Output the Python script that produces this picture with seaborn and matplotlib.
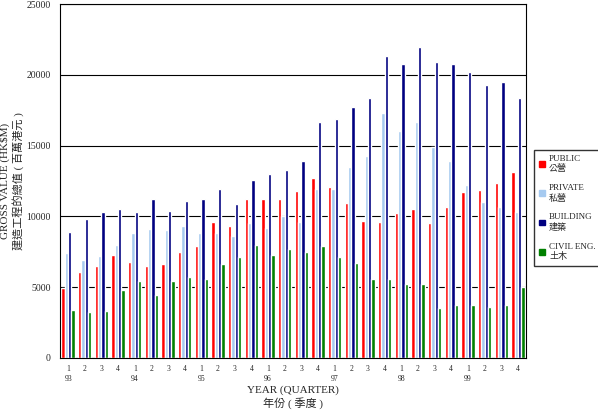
import matplotlib
matplotlib.use("Agg")
import matplotlib.pyplot as plt
import seaborn as sns
import pandas as pd

years = ["93", "94", "95", "96", "97", "98", "99"]
quarters = ["1", "2", "3", "4"]

public = [4940, 6070, 6500, 7300, 6800, 6500, 6600, 7500, 7900, 9600, 9300, 11200,
          11200, 11200, 11800, 12700, 12100, 10950, 9700, 9600, 10200, 10500, 9550, 10650,
          11700, 11850, 12350, 13100]
private = [7400, 6900, 7200, 8000, 8800, 9100, 9000, 9300, 8800, 8800, 8600, 9500,
           9200, 10000, 9600, 11900, 11900, 13500, 14300, 17300, 16000, 16700, 14900, 13900,
           12200, 11000, 10650, 10300]
building = [8900, 9800, 10300, 10500, 10300, 11200, 10400, 11100, 11200, 11900, 10900, 12600,
            13000, 13300, 13900, 16700, 16900, 17700, 18400, 21300, 20800, 22000, 20900, 20800,
            20200, 19300, 19500, 18400]
civil = [3400, 3200, 3300, 4800, 5400, 4450, 5400, 5700, 5600, 6600, 7100, 8000,
         7300, 7700, 7500, 7900, 7100, 6700, 5600, 5600, 5200, 5200, 3550, 3700,
         3750, 3600, 3750, 5000]

series_names = ["PUBLIC\n公營", "PRIVATE\n私營", "BUILDING\n建築", "CIVIL ENG.\n土木"]
colors = ["#ff0000", "#a6caf0", "#000080", "#008000"]

n = len(public)
rows = []
for name, vals in zip(series_names, [public, private, building, civil]):
    for i, v in enumerate(vals):
        rows.append({"q": i, "series": name, "value": v})
df = pd.DataFrame(rows)

sns.set_style("white")
plt.rcParams["font.family"] = ["Liberation Serif", "Noto Sans CJK TC"]

fig = plt.figure(figsize=(5.98, 4.16), dpi=100)
ax = fig.add_axes([0.10, 0.14, 0.78, 0.85])
sns.barplot(data=df, x="q", y="value", hue="series", palette=colors,
            width=0.8, ax=ax, saturation=1, legend=False)

ax.set_ylim(0, 25000)
ax.set_yticks(range(0, 25001, 5000))
ax.tick_params(axis="y", labelsize=7, length=3)
ax.yaxis.grid(True, color="black", linewidth=0.8)
ax.set_axisbelow(True)
for s in ax.spines.values():
    s.set_color("black")
    s.set_linewidth(0.8)

labels = []
for i in range(n):
    q = quarters[i % 4]
    labels.append(q + "\n" + years[i // 4] if i % 4 == 0 else q + "\n")
ax.set_xticks(range(n))
ax.set_xticklabels(labels, fontsize=5.5)
ax.tick_params(axis="x", length=2)
ax.set_xlim(-0.5, n - 0.5)

ax.set_xlabel("YEAR (QUARTER)\n年份 ( 季度 )", fontsize=8, labelpad=2)
ax.set_ylabel("GROSS VALUE (HK$M)\n建造工程的總值 ( 百萬港元 )", fontsize=8, labelpad=2)

from matplotlib.patches import Patch
handles = [Patch(color=c) for c in colors]
fig.legend(handles, series_names, loc="center left", bbox_to_anchor=(0.885, 0.50),
           fontsize=6.5, frameon=True, edgecolor="black", fancybox=False,
           handlelength=0.6, handleheight=0.6, labelspacing=1.2, borderpad=0.6,
           handletextpad=0.5)

fig.savefig("out.png", dpi=100)
